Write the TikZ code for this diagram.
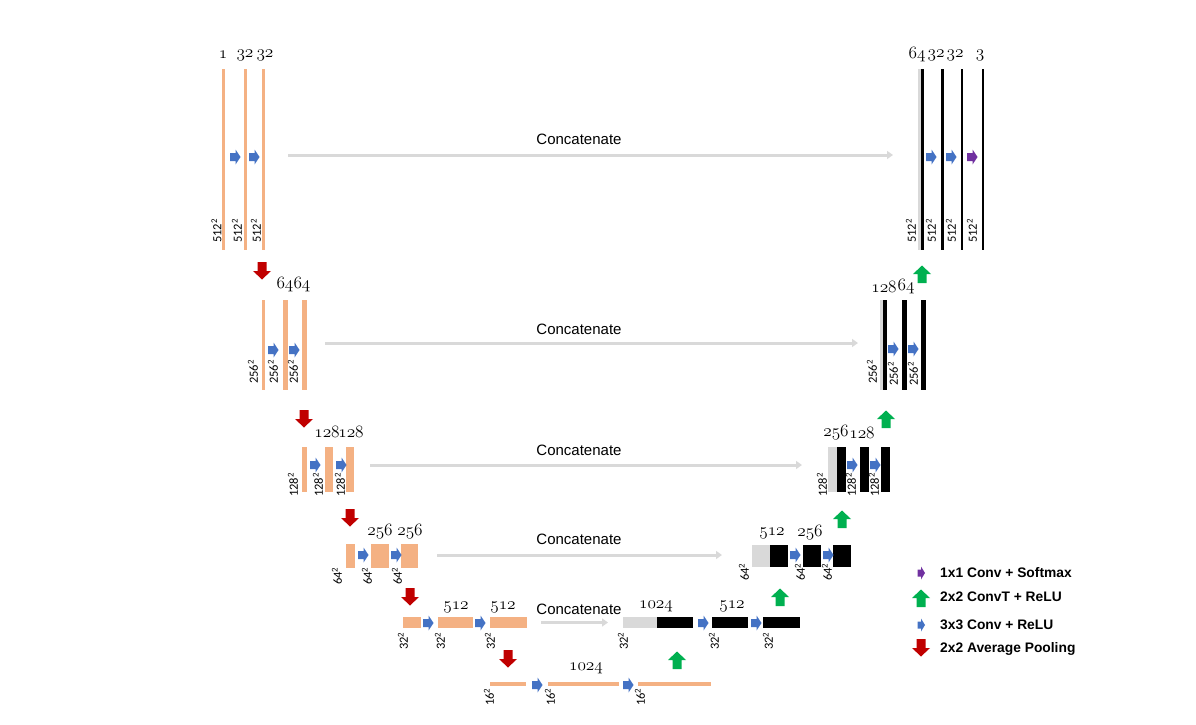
\documentclass[tikz,border=0pt]{standalone}
\usepackage{fontspec}
\setsansfont{Liberation Sans}
\newfontfamily\calib{Carlito}
\usetikzlibrary{arrows.meta}
\definecolor{ora}{HTML}{F4B183}
\definecolor{cblue}{HTML}{4472C4}
\definecolor{cred}{HTML}{C00000}
\definecolor{cgreen}{HTML}{00B050}
\definecolor{cpurple}{HTML}{7030A0}
\definecolor{lgray}{HTML}{D9D9D9}
\newcommand\mkbar[6]{\node[#2,minimum width={(#4-#3)*1pt},minimum height={(#6-#5)*1pt}] (#1) at ({(#3+#4)/2},{(#5+#6)/2}) {};}
\tikzset{
 rarr/.pic={\fill[pic actions] (-5,-4) -- (0.5,-4) -- (0.5,-7.5) -- (5.5,0) -- (0.5,7.5) -- (0.5,4) -- (-5,4) -- cycle;},
 srarr/.pic={\fill[pic actions] (-3.5,-3.5) -- (0,-3.5) -- (0,-6.5) -- (4,0) -- (0,6.5) -- (0,3.5) -- (-3.5,3.5) -- cycle;},
 darr/.pic={\fill[pic actions] (-4.5,-9) -- (4.5,-9) -- (4.5,0) -- (9,0) -- (0,8.5) -- (-9,0) -- (-4.5,0) -- cycle;},
 uarr/.pic={\fill[pic actions] (-4.5,9) -- (4.5,9) -- (4.5,0) -- (9,0) -- (0,-8.5) -- (-9,0) -- (-4.5,0) -- cycle;},
}
\begin{document}
\begin{tikzpicture}[x=1pt,y=-1pt,
 ob/.style={fill=ora,inner sep=0,outer sep=0},
 bb/.style={fill=black,inner sep=0,outer sep=0},
 gb/.style={fill=lgray,inner sep=0,outer sep=0},
 num/.style={font=\fontsize{16}{16}\selectfont\usefont{OML}{cmm}{m}{it},inner sep=0},
 rlab/.style={font=\calib\fontsize{12.5}{12.5}\selectfont,rotate=90,inner sep=0},
 cat/.style={font=\sffamily\fontsize{15}{15}\selectfont,inner sep=0},
 leg/.style={font=\sffamily\bfseries\fontsize{13.8}{13.8}\selectfont,anchor=west,inner sep=0},
 concat/.style={draw=lgray,line width=3pt,-{Triangle[length=6pt,width=8pt]}}]
\useasboundingbox (0,0) rectangle (1196,725);

% ---------- level 1 ----------
\mkbar{L1a}{ob}{221.5}{224.5}{69}{250}
\mkbar{L1b}{ob}{243.5}{246.5}{69}{250}
\mkbar{L1c}{ob}{261.5}{264.5}{69}{250}
\mkbar{R1g}{gb}{918}{921}{69}{250}
\mkbar{R1a}{bb}{921}{924}{69}{250}
\mkbar{R1b}{bb}{941}{943.5}{69}{250}
\mkbar{R1c}{bb}{960.8}{963.3}{69}{250}
\mkbar{R1d}{bb}{981.8}{984.3}{69}{250}
\node[num] (t1a) at (223,55) {1};
\node[num] (t1b) at (245,55) {32};
\node[num] (t1c) at (265,55) {32};
\node[num] (u1a) at (917,55) {64};
\node[num] (u1b) at (936,55) {32};
\node[num] (u1c) at (955,55) {32};
\node[num] (u1d) at (980,55) {3};
\pic[fill=cblue] at (235,157) {rarr};
\pic[fill=cblue] at (254,157) {rarr};
\pic[fill=cblue] at (931,157) {rarr};
\pic[fill=cblue] at (951,157) {rarr};
\pic[fill=cpurple] at (972,157) {rarr};
\node[rlab] (s1a) at (216.5,231) {512\textsuperscript{2}};
\node[rlab] (s1b) at (237,231) {512\textsuperscript{2}};
\node[rlab] (s1c) at (256,231) {512\textsuperscript{2}};
\node[rlab] (v1a) at (911,231) {512\textsuperscript{2}};
\node[rlab] (v1b) at (931,231) {512\textsuperscript{2}};
\node[rlab] (v1c) at (951,231) {512\textsuperscript{2}};
\node[rlab] (v1d) at (972,231) {512\textsuperscript{2}};
\draw[concat,shorten <=23.5pt,shorten >=25pt] ([yshift=4.5pt]L1c.east) -- ([yshift=4.5pt]R1g.west);
\node[cat] (c1) at (579,139) {Concatenate};

% ---------- level 2 ----------
\pic[fill=cred] at (262,271) {darr};
\pic[fill=cgreen] at (922,274) {uarr};
\mkbar{L2a}{ob}{261.8}{265.3}{300}{390}
\mkbar{L2b}{ob}{283}{288}{300}{390}
\mkbar{L2c}{ob}{302}{307}{300}{390}
\mkbar{R2g}{gb}{880}{883}{300}{390}
\mkbar{R2a}{bb}{883}{887}{300}{390}
\mkbar{R2b}{bb}{902}{906.5}{300}{390}
\mkbar{R2c}{bb}{921}{925.5}{300}{390}
\node[num] (t2a) at (285,285) {64};
\node[num] (t2b) at (302,285) {64};
\node[num] (u2a) at (884,287) {128};
\node[num] (u2b) at (906,287) {64};
\pic[fill=cblue] at (273,350) {rarr};
\pic[fill=cblue] at (294,350) {rarr};
\pic[fill=cblue] at (893,349) {rarr};
\pic[fill=cblue] at (913,349) {rarr};
\node[rlab] (s2a) at (253,372) {256\textsuperscript{2}};
\node[rlab] (s2b) at (273,372) {256\textsuperscript{2}};
\node[rlab] (s2c) at (293,372) {256\textsuperscript{2}};
\node[rlab] (v2a) at (872,372) {256\textsuperscript{2}};
\node[rlab] (v2b) at (893,374) {256\textsuperscript{2}};
\node[rlab] (v2c) at (913,374) {256\textsuperscript{2}};
\draw[concat,shorten <=18pt,shorten >=22pt] ([yshift=2pt]L2c.east) -- ([yshift=2pt]R2g.west);
\node[cat] (c2) at (579,329) {Concatenate};

% ---------- level 3 ----------
\pic[fill=cred] at (304,419) {darr};
\pic[fill=cgreen] at (886,419) {uarr};
\mkbar{L3a}{ob}{302}{307}{447}{492}
\mkbar{L3b}{ob}{325}{333}{447}{492}
\mkbar{L3c}{ob}{346}{354}{447}{492}
\mkbar{R3g}{gb}{828}{837}{447}{492}
\mkbar{R3a}{bb}{837}{846}{447}{492}
\mkbar{R3b}{bb}{860}{869}{447}{492}
\mkbar{R3c}{bb}{881}{890}{447}{492}
\node[num] (t3a) at (327,432) {128};
\node[num] (t3b) at (351,432) {128};
\node[num] (u3a) at (836,433) {256};
\node[num] (u3b) at (862,433) {128};
\pic[fill=cblue] at (315,465) {rarr};
\pic[fill=cblue] at (341,465) {rarr};
\pic[fill=cblue] at (852,465) {rarr};
\pic[fill=cblue] at (875,465) {rarr};
\node[rlab] (s3a) at (293,485) {128\textsuperscript{2}};
\node[rlab] (s3b) at (318,485) {128\textsuperscript{2}};
\node[rlab] (s3c) at (340,485) {128\textsuperscript{2}};
\node[rlab] (v3a) at (822,485) {128\textsuperscript{2}};
\node[rlab] (v3b) at (851,485) {128\textsuperscript{2}};
\node[rlab] (v3c) at (874,485) {128\textsuperscript{2}};
\draw[concat,shorten <=16pt,shorten >=26pt] ([yshift=4.5pt]L3c.east) -- ([yshift=4.5pt]R3g.west);
\node[cat] (c3) at (579,450) {Concatenate};

% ---------- level 4 ----------
\pic[fill=cred] at (350,518) {darr};
\pic[fill=cgreen] at (842,519) {uarr};
\mkbar{L4a}{ob}{346}{355}{544}{568}
\mkbar{L4b}{ob}{371}{389}{544}{568}
\mkbar{L4c}{ob}{401}{418}{544}{568}
\mkbar{R4g}{gb}{752}{770}{545}{567}
\mkbar{R4a}{bb}{770}{788}{545}{567}
\mkbar{R4b}{bb}{803}{821}{545}{567}
\mkbar{R4c}{bb}{833}{851}{545}{567}
\node[num] (t4a) at (380,532) {256};
\node[num] (t4b) at (410,532) {256};
\node[num] (u4a) at (772,533) {512};
\node[num] (u4b) at (810,533) {256};
\pic[fill=cblue] at (363,555) {rarr};
\pic[fill=cblue] at (396,555) {rarr};
\pic[fill=cblue] at (795,555) {rarr};
\pic[fill=cblue] at (828,555) {rarr};
\node[rlab] (s4a) at (337,576) {64\textsuperscript{2}};
\node[rlab] (s4b) at (367,576) {64\textsuperscript{2}};
\node[rlab] (s4c) at (397,576) {64\textsuperscript{2}};
\node[rlab] (v4a) at (744,572) {64\textsuperscript{2}};
\node[rlab] (v4b) at (800,572) {64\textsuperscript{2}};
\node[rlab] (v4c) at (827,572) {64\textsuperscript{2}};
\draw[concat,shorten <=19pt,shorten >=30pt] ([yshift=1pt]L4c.east) -- ([yshift=1pt]R4g.west);
\node[cat] (c4) at (579,539) {Concatenate};

% ---------- level 5 ----------
\pic[fill=cred] at (410,597) {darr};
\pic[fill=cgreen] at (780,597) {uarr};
\mkbar{L5a}{ob}{403}{421}{617}{628}
\mkbar{L5b}{ob}{438}{473}{617}{628}
\mkbar{L5c}{ob}{490}{527}{617}{628}
\mkbar{R5g}{gb}{623}{657}{617}{628}
\mkbar{R5a}{bb}{657}{693}{617}{628}
\mkbar{R5b}{bb}{712}{748}{617}{628}
\mkbar{R5c}{bb}{763}{800}{617}{628}
\node[num] (t5a) at (456,607) {512};
\node[num] (t5b) at (503,607) {512};
\node[num] (u5a) at (656,606) {1024};
\node[num] (u5b) at (732,606) {512};
\pic[fill=cblue] at (428,623) {rarr};
\pic[fill=cblue] at (480,623) {rarr};
\pic[fill=cblue] at (703,623) {rarr};
\pic[fill=cblue] at (756,623) {rarr};
\node[rlab] (s5a) at (403,641) {32\textsuperscript{2}};
\node[rlab] (s5b) at (440,641) {32\textsuperscript{2}};
\node[rlab] (s5c) at (490,641) {32\textsuperscript{2}};
\node[rlab] (v5a) at (623,641) {32\textsuperscript{2}};
\node[rlab] (v5b) at (714,641) {32\textsuperscript{2}};
\node[rlab] (v5c) at (768,641) {32\textsuperscript{2}};
\draw[concat,shorten <=14pt,shorten >=15pt] (L5c.east) -- (R5g.west);
\node[cat] (c5) at (579,609) {Concatenate};

% ---------- level 6 ----------
\pic[fill=cred] at (508,659) {darr};
\pic[fill=cgreen] at (677,660) {uarr};
\mkbar{B1}{ob}{490}{526}{681.5}{685.5}
\mkbar{B2}{ob}{548}{619}{681.5}{685.5}
\mkbar{B3}{ob}{638}{711}{681.5}{685.5}
\node[num] (tb) at (586,668) {1024};
\pic[fill=cblue] at (537,685) {rarr};
\pic[fill=cblue] at (628,685) {rarr};
\node[rlab] (sb1) at (489,697) {16\textsuperscript{2}};
\node[rlab] (sb2) at (550,697) {16\textsuperscript{2}};
\node[rlab] (sb3) at (640,697) {16\textsuperscript{2}};

% ---------- legend ----------
\pic[fill=cpurple] at (921,573) {srarr};
\pic[fill=cgreen] at (921,598) {uarr};
\pic[fill=cblue] at (921,625) {srarr};
\pic[fill=cred] at (921,648) {darr};
\node[leg] (g1) at (940,573) {1x1 Conv + Softmax};
\node[leg] (g2) at (940,597) {2x2 ConvT + ReLU};
\node[leg] (g3) at (940,625) {3x3 Conv + ReLU};
\node[leg] (g4) at (940,649) {2x2 Average Pooling};
\end{tikzpicture}
\end{document}
